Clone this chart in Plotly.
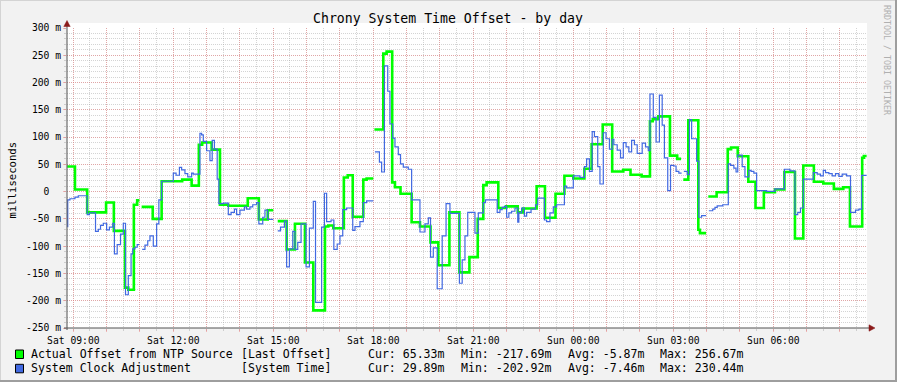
import plotly.graph_objects as go
from datetime import datetime, timedelta

TITLE = "Chrony System Time Offset - by day"
Y_LABEL = "milliseconds"
WATERMARK = "RRDTOOL / TOBI OETIKER"

# Actual Offset from NTP Source (green) - step start times and values (ms)
GREEN_TIME = [
    "Sat 08:49", "Sat 09:03", "Sat 09:25", "Sat 09:59", "Sat 10:13", "Sat 10:33", "Sat 10:39", "Sat 10:49", "Sat 10:55", "Sat 10:59",
    "Sat 11:03", "Sat 11:23", "Sat 11:39", "Sat 12:16", "Sat 12:33", "Sat 12:46", "Sat 12:52", "Sat 13:09", "Sat 13:24", "Sat 13:39",
    "Sat 14:14", "Sat 14:34", "Sat 14:50", "Sat 15:00", "Sat 15:08", "Sat 15:24", "Sat 15:39", "Sat 15:57", "Sat 16:12", "Sat 16:33",
    "Sat 16:39", "Sat 16:48", "Sat 17:07", "Sat 17:14", "Sat 17:23", "Sat 17:42", "Sat 17:48", "Sat 18:00", "Sat 18:02", "Sat 18:18",
    "Sat 18:24", "Sat 18:34", "Sat 18:39", "Sat 18:49", "Sat 19:09", "Sat 19:24", "Sat 19:43", "Sat 19:57", "Sat 20:17", "Sat 20:35",
    "Sat 20:53", "Sat 21:08", "Sat 21:18", "Sat 21:24", "Sat 21:45", "Sat 21:59", "Sat 22:20", "Sat 22:30", "Sat 22:54", "Sat 23:09",
    "Sat 23:28", "Sat 23:44", "Sun 00:00", "Sun 00:20", "Sun 00:33", "Sun 00:53", "Sun 01:10", "Sun 01:30", "Sun 01:43", "Sun 02:03",
    "Sun 02:18", "Sun 02:23", "Sun 02:33", "Sun 02:54", "Sun 03:07", "Sun 03:14", "Sun 03:18", "Sun 03:27", "Sun 03:45", "Sun 03:48",
    "Sun 03:59", "Sun 04:03", "Sun 04:18", "Sun 04:38", "Sun 04:44", "Sun 04:56", "Sun 05:15", "Sun 05:28", "Sun 05:43", "Sun 06:03",
    "Sun 06:20", "Sun 06:39", "Sun 06:54", "Sun 07:13", "Sun 07:30", "Sun 07:49", "Sun 08:06", "Sun 08:18", "Sun 08:40", "Sun 08:43",
    "Sun 08:48",
]
GREEN_VALUE = [
    46, 4, -38, -20, -72, -176, -180, -24, -16, None,
    -28, -50, 19, 22, 11, 86, 90, 77, -24, -26,
    -12, -51, -34, None, -54, -106, -59, -130, -217.69, -64,
    -62, -67, 26, 30, -46, 22, 24, None, 114, 253,
    256.67, 17, 8, -4, -56, -64, -93, -135, -38, -148,
    -120, -50, 12, 17, -30, -27, -38, -31, 10, -48,
    -4, 29, 24, 42, 87, 123, 37, 40, 31, 28,
    129, 133, 138, 66, 60, None, 22, 131, -70, -76,
    None, -9, -1, 78, 81, 65, 18, -30, -1, 4,
    36, -86, 48, 18, 15, 5, 8, -64, 62, 65.33,
    65.33,
]

# System Clock Adjustment (blue)
BLUE_TIME = [
    "Sat 08:49", "Sat 08:50", "Sat 08:54", "Sat 09:03", "Sat 09:09", "Sat 09:25", "Sat 09:29", "Sat 09:40", "Sat 09:45", "Sat 09:49",
    "Sat 09:54", "Sat 10:00", "Sat 10:05", "Sat 10:11", "Sat 10:14", "Sat 10:19", "Sat 10:25", "Sat 10:30", "Sat 10:34", "Sat 10:39",
    "Sat 10:44", "Sat 10:47", "Sat 10:51", "Sat 10:55", "Sat 10:59", "Sat 11:04", "Sat 11:09", "Sat 11:14", "Sat 11:18", "Sat 11:24",
    "Sat 11:30", "Sat 11:34", "Sat 11:39", "Sat 12:00", "Sat 12:05", "Sat 12:11", "Sat 12:15", "Sat 12:21", "Sat 12:26", "Sat 12:33",
    "Sat 12:36", "Sat 12:48", "Sat 12:51", "Sat 12:54", "Sat 13:00", "Sat 13:06", "Sat 13:10", "Sat 13:14", "Sat 13:19", "Sat 13:22",
    "Sat 13:30", "Sat 13:39", "Sat 13:44", "Sat 13:50", "Sat 13:54", "Sat 14:00", "Sat 14:08", "Sat 14:12", "Sat 14:18", "Sat 14:23",
    "Sat 14:30", "Sat 14:34", "Sat 14:41", "Sat 14:45", "Sat 14:50", "Sat 15:00", "Sat 15:08", "Sat 15:13", "Sat 15:20", "Sat 15:24",
    "Sat 15:29", "Sat 15:35", "Sat 15:39", "Sat 15:44", "Sat 15:50", "Sat 15:59", "Sat 16:05", "Sat 16:12", "Sat 16:16", "Sat 16:27",
    "Sat 16:32", "Sat 16:36", "Sat 16:44", "Sat 16:49", "Sat 16:55", "Sat 17:00", "Sat 17:05", "Sat 17:12", "Sat 17:23", "Sat 17:27",
    "Sat 17:36", "Sat 17:42", "Sat 17:48", "Sat 18:00", "Sat 18:03", "Sat 18:11", "Sat 18:15", "Sat 18:20", "Sat 18:26", "Sat 18:30",
    "Sat 18:35", "Sat 18:39", "Sat 18:45", "Sat 18:49", "Sat 18:54", "Sat 19:03", "Sat 19:09", "Sat 19:24", "Sat 19:33", "Sat 19:39",
    "Sat 19:43", "Sat 19:48", "Sat 19:55", "Sat 20:04", "Sat 20:11", "Sat 20:18", "Sat 20:35", "Sat 20:40", "Sat 20:45", "Sat 20:50",
    "Sat 21:03", "Sat 21:09", "Sat 21:18", "Sat 21:22", "Sat 21:43", "Sat 21:48", "Sat 21:52", "Sat 21:56", "Sat 22:00", "Sat 22:04",
    "Sat 22:09", "Sat 22:15", "Sat 22:20", "Sat 22:22", "Sat 22:27", "Sat 22:32", "Sat 22:36", "Sat 22:44", "Sat 22:52", "Sat 22:56",
    "Sat 23:08", "Sat 23:12", "Sat 23:18", "Sat 23:24", "Sat 23:30", "Sat 23:44", "Sat 23:48", "Sun 00:00", "Sun 00:12", "Sun 00:20",
    "Sun 00:24", "Sun 00:29", "Sun 00:34", "Sun 00:38", "Sun 00:44", "Sun 00:48", "Sun 00:54", "Sun 00:59", "Sun 01:05", "Sun 01:10",
    "Sun 01:13", "Sun 01:19", "Sun 01:25", "Sun 01:30", "Sun 01:35", "Sun 01:40", "Sun 01:45", "Sun 01:50", "Sun 01:55", "Sun 02:04",
    "Sun 02:10", "Sun 02:15", "Sun 02:18", "Sun 02:24", "Sun 02:29", "Sun 02:35", "Sun 02:40", "Sun 02:44", "Sun 02:50", "Sun 02:55",
    "Sun 03:01", "Sun 03:05", "Sun 03:10", "Sun 03:15", "Sun 03:19", "Sun 03:25", "Sun 03:29", "Sun 03:33", "Sun 03:42", "Sun 03:46",
    "Sun 03:51", "Sun 03:59", "Sun 04:04", "Sun 04:11", "Sun 04:15", "Sun 04:19", "Sun 04:29", "Sun 04:39", "Sun 04:43", "Sun 04:49",
    "Sun 04:53", "Sun 04:56", "Sun 05:04", "Sun 05:09", "Sun 05:16", "Sun 05:20", "Sun 05:25", "Sun 05:30", "Sun 05:48", "Sun 06:03",
    "Sun 06:20", "Sun 06:30", "Sun 06:39", "Sun 06:44", "Sun 06:49", "Sun 06:54", "Sun 07:12", "Sun 07:19", "Sun 07:25", "Sun 07:30",
    "Sun 07:34", "Sun 07:40", "Sun 07:46", "Sun 07:52", "Sun 07:58", "Sun 08:04", "Sun 08:12", "Sun 08:19", "Sun 08:28", "Sun 08:34",
    "Sun 08:39", "Sun 08:48",
]
BLUE_VALUE = [
    -64, -15, -13, -10, -7.5, -42, -39, -73, -69, -62,
    -58, -70, -65, -58, -114, -97, -78, -58, -189, -154,
    -114, -105, -102, -97, None, -106, -98, -90, -81, -100,
    -59, -15, 19, 34, 30, 44.5, 40, 33, 27, 34,
    32, 107, 104, 92, 75, 57, 94, 78, 23, -22,
    -21, -42, -38, -32, -42, -34, -28, -32, -28, -24,
    -20, -59, -47, -34, -51, None, -72, -65, -54, -138,
    -105, -73, -106, -93, -59, -138, -67, -18, -202.92, -65,
    -3, -55, -52, -106, -96, -81, -33, -30, -71, -64,
    -55, -20, -17, None, 73, 54, 36, 230.44, 184, 124,
    98, 82, 68, 51, 45, 41, -15, -74, -59, -48,
    -120, -103, -178, -81, -22, -40, -168, -125, -81, -38,
    -76, -39, -20, -15, -38, -33, -29, -27, -47, -39,
    -36, -30, -56, -39, -30, -45, -38, -32, -24, -12,
    -52, -55, -39, -28, -24, 10, 7, 29, 26, 46,
    60, 37, 110, 101, 46, 14, 108, 97, 78, 96,
    86, 76, 62, 90, 82, 73, 94, 86, 70, 89,
    82, 75, 179, 136, 91, 177, 122, 62, 2, 48,
    47, 37, 34, None, 37, 31, 132, 97, 56, -47,
    -44, None, -35, -32, -29, -26, -24, 51, 48, 43,
    36, 67, 46, 27, 39, 37, 34, 2, 0.5, 5,
    41, 38, -42, -38, -30, 23, 35, 32, 29, 39,
    35, 33, 29, 33, 28, 32, 29, -38, -34, -32,
    29.89, 29.89,
]

SERIES_NAMES = ["Actual Offset from NTP Source", "System Clock Adjustment"]
SERIES_SOURCES = ["[Last Offset]", "[System Time]"]
STAT_CUR = [65.33, 29.89]
STAT_MIN = [-217.69, -202.92]
STAT_AVG = [-5.87, -7.46]
STAT_MAX = [256.67, 230.44]

X_TICK_LABELS = ["Sat 09:00", "Sat 12:00", "Sat 15:00", "Sat 18:00",
                 "Sat 21:00", "Sun 00:00", "Sun 03:00", "Sun 06:00"]
Y_TICK_VALUES = [-250, -200, -150, -100, -50, 0, 50, 100, 150, 200, 250, 300]
Y_TICK_LABELS = ["-250 m", "-200 m", "-150 m", "-100 m", "-50 m", "0",
                 "50 m", "100 m", "150 m", "200 m", "250 m", "300 m"]

COLORS = ["#00FF00", "#4169E1"]

SAT = datetime(2024, 1, 6)


def parse(s):
    day, hm = s.split()
    h, m = map(int, hm.split(":"))
    base = SAT if day == "Sat" else SAT + timedelta(days=1)
    return base + timedelta(hours=h, minutes=m)


def step_series(times, values):
    xs, ys = [], []
    prev = None
    for t, v in zip(times, values):
        dt = parse(t)
        if v is None and prev is not None:
            xs.append(dt)
            ys.append(prev)
        xs.append(dt)
        ys.append(v)
        prev = v
    return xs, ys


W, H = 897, 382
L, T, PW, PH = 67, 28, 800, 300
FONT = "DejaVu Sans Mono"
MAJOR = "rgba(240,110,110,0.45)"
MINOR = "rgba(160,160,160,0.45)"


def px(x):
    return (x - L) / PW


def py(y):
    return (T + PH - y) / PH


fig = go.Figure()
gx, gy = step_series(GREEN_TIME, GREEN_VALUE)
bx, by = step_series(BLUE_TIME, BLUE_VALUE)
fig.add_trace(go.Scatter(x=gx, y=gy, mode="lines", line=dict(color=COLORS[0], width=2.6, shape="hv"),
                         connectgaps=False, hoverinfo="skip"))
fig.add_trace(go.Scatter(x=bx, y=by, mode="lines", line=dict(color=COLORS[1], width=1.2, shape="hv"),
                         connectgaps=False, hoverinfo="skip"))

x_start = SAT + timedelta(hours=8, minutes=48, seconds=40)
x_end = x_start + timedelta(days=1)
hourly = [SAT + timedelta(hours=9 + i) for i in range(24)]
label_at = {parse(s): s for s in X_TICK_LABELS}
hour_text = [label_at.get(h, "") for h in hourly]

y_text = [s if s.endswith("m") else s + "\u00a0\u00a0" for s in Y_TICK_LABELS]

fig.update_layout(
    width=W, height=H, autosize=False,
    margin=dict(l=L, r=W - L - PW, t=T, b=H - T - PH, pad=0),
    paper_bgcolor="#F2F2F2", plot_bgcolor="#FFFFFF",
    showlegend=False, hovermode=False,
    font=dict(family=FONT, color="#000000"),
    xaxis=dict(
        type="date", range=[x_start, x_end], tickmode="array",
        tickvals=hourly, ticktext=hour_text,
        showgrid=True, gridcolor=MAJOR, griddash="1px,1px", gridwidth=1,
        ticks="outside", ticklen=3, tickcolor=MAJOR, tickwidth=1,
        zeroline=False, showline=False,
        tickfont=dict(family=FONT, size=9.7, color="#000000"),
        minor=dict(dtick=1800000, tick0="2024-01-06 00:00", showgrid=True, gridcolor=MINOR,
                   griddash="1px,1px", ticks="outside", ticklen=2, tickcolor=MINOR),
        fixedrange=True,
    ),
    yaxis=dict(
        range=[-250, 300], tickmode="array", tickvals=Y_TICK_VALUES, ticktext=y_text,
        showgrid=True, gridcolor=MAJOR, griddash="1px,1px", gridwidth=1,
        ticks="outside", ticklen=3, tickcolor=MAJOR, tickwidth=1,
        zeroline=False, showline=False,
        tickfont=dict(family=FONT, size=9.7, color="#000000"),
        minor=dict(dtick=10, tick0=0, showgrid=True, gridcolor=MINOR,
                   griddash="1px,1px", ticks="outside", ticklen=2, tickcolor=MINOR),
        fixedrange=True,
    ),
)

shapes = []
# white canvas continues a few px above the top gridline
shapes.append(dict(type="rect", xref="paper", yref="paper", x0=0, x1=1, y0=1, y1=py(23),
                   fillcolor="#FFFFFF", line=dict(width=0), layer="below"))
# frame shading
shapes.append(dict(type="line", xref="paper", yref="paper", x0=px(0), x1=px(W), y0=py(0.5), y1=py(0.5),
                   line=dict(color="#D4D4D4", width=1)))
shapes.append(dict(type="line", xref="paper", yref="paper", x0=px(0.5), x1=px(0.5), y0=py(0), y1=py(H),
                   line=dict(color="#D4D4D4", width=1)))
shapes.append(dict(type="line", xref="paper", yref="paper", x0=px(0), x1=px(W), y0=py(H - 1), y1=py(H - 1),
                   line=dict(color="#9E9E9E", width=2)))
shapes.append(dict(type="line", xref="paper", yref="paper", x0=px(W - 1), x1=px(W - 1), y0=py(0), y1=py(H),
                   line=dict(color="#9E9E9E", width=2)))
# axes
AXIS = "#505050"
ARROW = "#8B1A1A"
shapes.append(dict(type="line", xref="paper", yref="paper", x0=px(67), x1=px(67), y0=py(330), y1=py(25),
                   line=dict(color=AXIS, width=1)))
shapes.append(dict(type="line", xref="paper", yref="paper", x0=px(64), x1=px(870), y0=py(328), y1=py(328),
                   line=dict(color=AXIS, width=1)))
shapes.append(dict(type="path", xref="paper", yref="paper",
                   path=f"M {px(67)} {py(20.5)} L {px(63.8)} {py(26.5)} L {px(70.2)} {py(26.5)} Z",
                   fillcolor=ARROW, line=dict(color=ARROW, width=0.5)))
shapes.append(dict(type="path", xref="paper", yref="paper",
                   path=f"M {px(875)} {py(328)} L {px(869)} {py(324.8)} L {px(869)} {py(331.2)} Z",
                   fillcolor=ARROW, line=dict(color=ARROW, width=0.5)))
# legend swatches
for i, c in enumerate(COLORS):
    top = 350 + i * 14.3
    shapes.append(dict(type="rect", xref="paper", yref="paper", x0=px(15.5), x1=px(23.5),
                       y0=py(top), y1=py(top + 8.5), fillcolor=c, line=dict(color="#000000", width=1)))
fig.update_layout(shapes=shapes)

ann = []


def text(x, y, s, size, xanchor="left", angle=0, color="#000000"):
    ann.append(dict(x=px(x), y=py(y), xref="paper", yref="paper", text=s, showarrow=False,
                    xanchor=xanchor, yanchor="middle", textangle=angle, borderpad=0, borderwidth=0,
                    font=dict(family=FONT, size=size, color=color)))


text(448, 18.5, TITLE, 13.2, xanchor="center")
text(11.5, 180, Y_LABEL, 10.6, xanchor="center", angle=-90)
text(887, 60, WATERMARK, 8.3, xanchor="center", angle=90, color="#B0B0B0")


def fmt(v):
    return f"{v:.2f}m"


for i in range(2):
    yrow = 354 + i * 14.3
    text(30.7, yrow, SERIES_NAMES[i], 11.55)
    text(240.7, yrow, SERIES_SOURCES[i], 11.55)
    text(368.3, yrow, "Cur: " + fmt(STAT_CUR[i]), 11.55)
    text(461, yrow, "Min: " + fmt(STAT_MIN[i]), 11.55)
    text(567.7, yrow, "Avg: " + fmt(STAT_AVG[i]), 11.55)
    text(660.3, yrow, "Max: " + fmt(STAT_MAX[i]), 11.55)

fig.update_layout(annotations=ann)

fig.write_html("out.html", config={"displayModeBar": False, "staticPlot": True},
               post_script="document.body.style.margin='0px';document.body.style.overflow='hidden';")
